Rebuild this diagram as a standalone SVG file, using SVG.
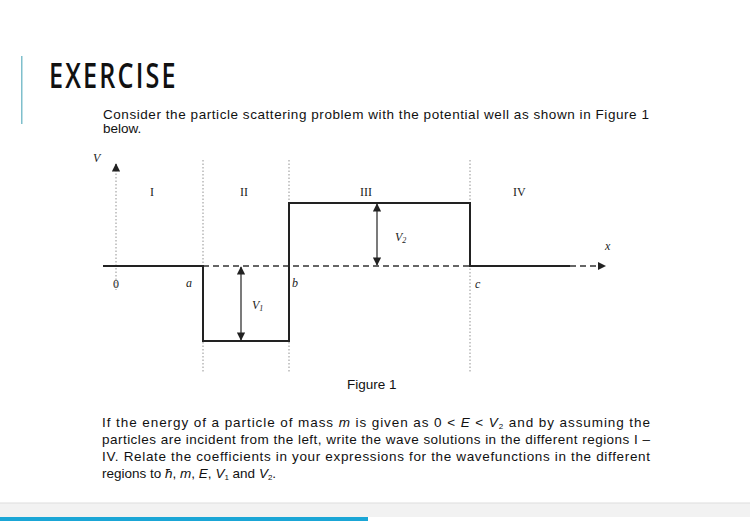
<svg xmlns="http://www.w3.org/2000/svg" width="750" height="521" viewBox="0 0 750 521">
<defs>
<style>
.s{font-family:"Liberation Sans",Arial,sans-serif;font-size:13.5px;fill:#111}
.f{font-family:"Liberation Serif","Times New Roman",serif;font-size:12px;fill:#222}
.fi{font-family:"Liberation Serif","Times New Roman",serif;font-size:12px;font-style:italic;fill:#222}
.dot{stroke:#777;stroke-width:0.8;stroke-dasharray:1.5 2;fill:none}
.pot{stroke:#222;stroke-width:2;fill:none}
.dash{stroke:#333;stroke-width:1.3;stroke-dasharray:6 4;fill:none}
.arr{stroke:#222;stroke-width:1.2;fill:none}
</style>
<marker id="ah" viewBox="0 0 10 10" refX="9" refY="5" markerWidth="7" markerHeight="7" orient="auto-start-reverse"><path d="M0,0 L10,5 L0,10 z" fill="#222"/></marker>
</defs>
<rect width="750" height="521" fill="#fff"/>
<rect x="21" y="56" width="1.5" height="68" fill="#7fbfcc"/>
<text x="49" y="88" font-family="'Open Sans','DejaVu Sans',sans-serif" font-weight="600" font-size="35" fill="#111" transform="translate(49 0) scale(0.72 1) translate(-49 0)" letter-spacing="3">EXERCISE</text>
<text class="s" x="103" y="119" textLength="546" lengthAdjust="spacing">Consider the particle scattering problem with the potential well as shown in Figure 1</text>
<text class="s" x="103" y="133">below.</text>
<g id="axes">
<line class="dot" x1="116" y1="170" x2="116" y2="290"/>
<line class="arr" x1="116" y1="170" x2="116" y2="164" marker-end="url(#ah)"/>
<line class="dot" x1="203" y1="160" x2="203" y2="372"/>
<line class="dot" x1="289" y1="160" x2="289" y2="372"/>
<line class="dot" x1="470" y1="160" x2="470" y2="372"/>
</g>
<g id="connectors">
<line class="dash" x1="203" y1="266" x2="470" y2="266"/>
<line class="dash" x1="570" y1="266" x2="598" y2="266"/>
<path d="M598,262 L606,266 L598,270 z" fill="#222"/>
<path class="pot" d="M103,266 H203 V341 H289 V203 H470 V266 H570"/>
<line class="arr" x1="241" y1="267" x2="241" y2="340" marker-start="url(#ah)" marker-end="url(#ah)"/>
<line class="arr" x1="377" y1="204" x2="377" y2="265" marker-start="url(#ah)" marker-end="url(#ah)"/>
</g>
<g id="labels">
<text class="fi" x="93" y="162">V</text>
<text class="f" x="150" y="196">I</text>
<text class="f" x="240" y="196">II</text>
<text class="f" x="360" y="196">III</text>
<text class="f" x="513" y="196">IV</text>
<text class="fi" x="395" y="241">V<tspan font-size="8" dy="2">2</tspan></text>
<text class="fi" x="252" y="309">V<tspan font-size="8" dy="2">1</tspan></text>
<text class="fi" x="605" y="250">x</text>
<text class="f" x="113" y="288">0</text>
<text class="fi" x="186" y="287">a</text>
<text class="fi" x="292" y="287">b</text>
<text class="fi" x="475" y="288">c</text>
</g>
<text class="s" x="347" y="389">Figure 1</text>
<g class="s">
<text x="102" y="427" textLength="548" lengthAdjust="spacing">If the energy of a particle of mass <tspan font-style="italic">m</tspan> is given as 0 &lt; <tspan font-style="italic">E</tspan> &lt; <tspan font-style="italic">V</tspan><tspan font-size="8" dy="2">2</tspan><tspan dy="-2"> and by assuming the</tspan></text>
<text x="102" y="444" textLength="548" lengthAdjust="spacing">particles are incident from the left, write the wave solutions in the different regions I –</text>
<text x="102" y="461" textLength="548" lengthAdjust="spacing">IV. Relate the coefficients in your expressions for the wavefunctions in the different</text>
<text x="102" y="478">regions to <tspan font-style="italic">ħ</tspan>, <tspan font-style="italic">m</tspan>, <tspan font-style="italic">E</tspan>, <tspan font-style="italic">V</tspan><tspan font-size="8" dy="2">1</tspan><tspan dy="-2"> and </tspan><tspan font-style="italic">V</tspan><tspan font-size="8" dy="2">2</tspan><tspan dy="-2">.</tspan></text>
</g>
<rect x="0" y="503" width="750" height="14" fill="#f2f2f2"/>
<line x1="0" y1="503" x2="750" y2="503" stroke="#ddd"/>
<rect x="0" y="517" width="368" height="4" fill="#1aa6d6"/>
</svg>
